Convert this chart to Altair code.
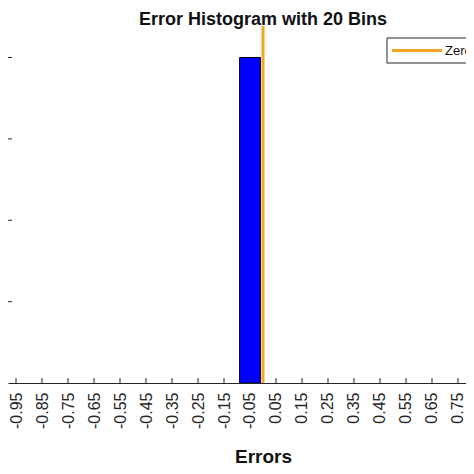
import altair as alt
import pandas as pd

# Data
bin_centers = [-0.95, -0.85, -0.75, -0.65, -0.55, -0.45, -0.35, -0.25, -0.15, -0.05,
               0.05, 0.15, 0.25, 0.35, 0.45, 0.55, 0.65, 0.75, 0.85, 0.95]
counts = [0, 0, 0, 0, 0, 0, 0, 0, 0, 40,
          0, 0, 0, 0, 0, 0, 0, 0, 0, 0]
y_ticks = [10, 20, 30, 40]
zero_error = [0.0]
legend_label = ["Zero Error"]
title_text = "Error Histogram with 20 Bins"

ORANGE = "#F5A526"
DARK = "#262626"
FONT = "Liberation Sans"
BAR_HALF = 0.04

W, H = 458, 357
xscale = alt.Scale(domain=[-0.98077, 0.78077], nice=False, zero=False)
yscale = alt.Scale(domain=[0, 43.87], nice=False, zero=True)

bars_df = pd.DataFrame({"center": bin_centers, "count": counts})
bars_df["x0"] = bars_df["center"] - BAR_HALF
bars_df["x1"] = bars_df["center"] + BAR_HALF

xaxis = alt.Axis(
    values=bin_centers,
    labelExpr="replace(format(datum.value, '.2f'), '\u2212', '-')",
    labelAngle=-90, labelFontSize=16, labelFont=FONT, labelColor=DARK,
    labelPadding=9, labelOverlap=False, labelFlush=False, labelBound=False,
    labelSeparation=0,
    ticks=False, grid=False, domainColor=DARK, domainWidth=1,
    title="Errors", titleFont=FONT, titleFontSize=19, titleFontWeight="bold",
    titleColor="#111111", titleX=255, titleY=79, titleBaseline="alphabetic",
    titleAlign="center", titleAngle=0,
)

bars = alt.Chart(bars_df).transform_filter(
    alt.datum.count > 0
).mark_bar(
    fill="#0000FF", stroke="#000000", strokeWidth=1, clip=True
).encode(
    x=alt.X("x0:Q", scale=xscale, axis=xaxis),
    x2="x1:Q",
    y=alt.Y("count:Q", scale=yscale, axis=None),
    y2=alt.Y2(datum=0),
)

xticks = alt.Chart(pd.DataFrame({"t": bin_centers})).mark_rule(
    color=DARK, strokeWidth=1, clip=True
).encode(
    x=alt.X("t:Q", scale=xscale, axis=xaxis),
    y=alt.value(H),
    y2=alt.value(H - 5),
)

yticks = alt.Chart(pd.DataFrame({"v": y_ticks})).mark_rule(
    color=DARK, strokeWidth=1
).encode(
    y=alt.Y("v:Q", scale=yscale, axis=None),
    x=alt.value(0),
    x2=alt.value(4),
)

zero_df = pd.DataFrame({"z": zero_error, "label": legend_label})
zero_line = alt.Chart(zero_df).mark_rule(strokeWidth=3, color=ORANGE).encode(
    x=alt.X("z:Q", scale=xscale, axis=xaxis),
    y=alt.value(0),
    y2=alt.value(H),
)

# Legend box (partly outside the picture, as in the reference)
legend_box = alt.Chart(pd.DataFrame({"label": legend_label})).mark_rect(
    fill="white", stroke=DARK, strokeWidth=1
).encode(
    x=alt.value(379), x2=alt.value(500),
    y=alt.value(12), y2=alt.value(37),
)
legend_line = alt.Chart(pd.DataFrame({"label": legend_label})).mark_rule(
    color=ORANGE, strokeWidth=3
).encode(
    x=alt.value(384), x2=alt.value(434),
    y=alt.value(24.5),
)
legend_text = alt.Chart(pd.DataFrame({"label": legend_label})).mark_text(
    font=FONT, fontSize=13, color="#111111", align="left", baseline="middle"
).encode(
    text="label:N",
    x=alt.value(437),
    y=alt.value(25),
)

title = alt.Chart(pd.DataFrame({"t": [title_text]})).mark_text(
    font=FONT, fontSize=18, fontWeight="bold", color="#111111",
    align="center", baseline="alphabetic",
).encode(
    text="t:N",
    x=alt.X(datum=0, scale=xscale, axis=xaxis),
    y=alt.value(-1.5),
)

chart = alt.layer(
    bars, xticks, yticks, zero_line, legend_box, legend_line, legend_text, title
).properties(
    width=W, height=H,
    padding={"left": 0, "right": 0, "top": 18, "bottom": 83},
    autosize="none",
    background="white",
).configure_view(stroke=None).configure_axisX(labelOverlap=False)

chart.save("out.html", embed_options={"renderer": "svg", "actions": False})
